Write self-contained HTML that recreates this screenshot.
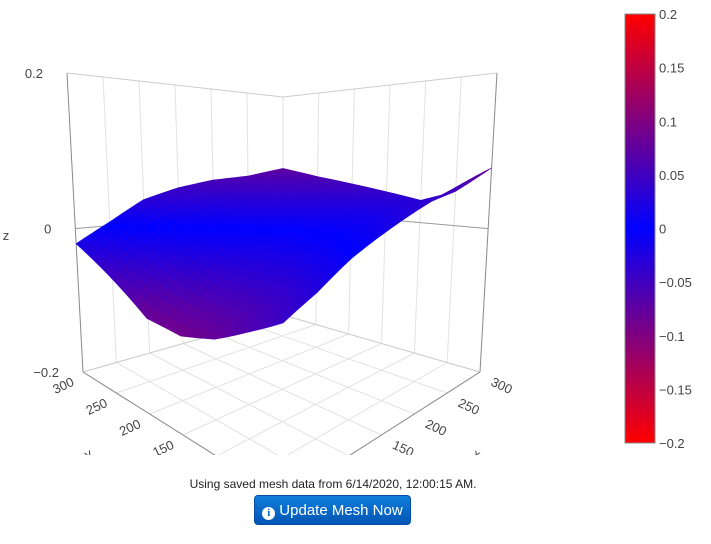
<!DOCTYPE html>
<html><head><meta charset="utf-8">
<style>
body{margin:0;width:711px;height:544px;background:#fff;font-family:"Liberation Sans",Arial,sans-serif;overflow:hidden;position:relative}
#msg{position:absolute;left:0;width:666px;top:477px;text-align:center;font-size:12px;color:#222}
#btn{position:absolute;left:254px;top:495px;width:157px;height:30px;border-radius:4px;background:linear-gradient(#0f7ddb,#0456b5);color:#fff;font-size:15px;line-height:30px;text-align:center;box-sizing:border-box;border:1px solid #0450a8}
#btn .ic{display:inline-block;width:13px;height:13px;border-radius:50%;background:#fff;color:#0a66c8;font-size:11px;font-weight:bold;line-height:13px;font-family:"Liberation Serif",serif;vertical-align:-1px;margin-right:4px}
</style></head><body>
<svg id="chart" width="711" height="470" style="position:absolute;left:0;top:0">
<defs>
<clipPath id="clip"><rect x="0" y="0" width="600" height="455"/></clipPath>
<linearGradient id="cb" x1="0" y1="0" x2="0" y2="1">
<stop offset="0" stop-color="#ff0000"/><stop offset="0.5" stop-color="#0000ff"/><stop offset="1" stop-color="#ff0000"/>
</linearGradient>
</defs>
<g id="scene" clip-path="url(#clip)"></g>
<g id="colorbar">
<rect x="625" y="14" width="30" height="429" fill="url(#cb)" stroke="#888" stroke-width="1"/>
</g>
</svg>
<div id="msg">Using saved mesh data from 6/14/2020, 12:00:15 AM.</div>
<div id="btn"><span class="ic">i</span>Update Mesh Now</div>
<script>
const xVals=[0,50,100,150,200,250,300];
const yVals=[0,50,100,150,200,250,300];
const zRow0=[-0.045,-0.062,-0.08,-0.09,-0.085,-0.052,-0.02];
const zRow1=[-0.027,-0.045,-0.055,-0.055,-0.04,-0.017,0.005];
const zRow2=[-0.003,-0.018,-0.027,-0.027,-0.012,0.003,0.033];
const zRow3=[0.017,0.002,-0.008,-0.008,0.002,0.017,0.048];
const zRow4=[0.037,0.017,0.007,0.007,0.022,0.037,0.058];
const zRow5=[0.057,0.032,0.022,0.022,0.037,0.052,0.063];
const zRow6=[0.079,0.047,0.032,0.042,0.052,0.062,0.075];
const zGrid=[zRow0,zRow1,zRow2,zRow3,zRow4,zRow5,zRow6];
const zTicks=[-0.2,0,0.2];
const zTickLabels=["−0.2","0","0.2"];
const axisTicks=[100,150,200,250,300];
const cbTicks=[0.2,0.15,0.1,0.05,0,-0.05,-0.1,-0.15,-0.2];
const cbLabels=["0.2","0.15","0.1","0.05","0","−0.05","−0.1","−0.15","−0.2"];

const NS="http://www.w3.org/2000/svg";
const scene=document.getElementById('scene');
const F0=[283,498],R0=[480,372],L0=[83,372],B0=[283,315];
const F1=[283,20],R1=[497,73],L1=[67,73],B1=[283,97];
function bil(a,b,c,d,u,v){return [(1-u)*(1-v)*a[0]+u*(1-v)*b[0]+(1-u)*v*c[0]+u*v*d[0],(1-u)*(1-v)*a[1]+u*(1-v)*b[1]+(1-u)*v*c[1]+u*v*d[1]];}
function proj(x,y,z){const u=x/300,v=y/300,t=Math.pow(Math.max(0,(z+0.2)/0.4),1.06);const p=bil(F0,R0,L0,B0,u,v),q=bil(F1,R1,L1,B1,u,v);return [p[0]+(q[0]-p[0])*t,p[1]+(q[1]-p[1])*t];}
function line(a,b,col,name){const l=document.createElementNS(NS,'line');l.setAttribute('x1',a[0]);l.setAttribute('y1',a[1]);l.setAttribute('x2',b[0]);l.setAttribute('y2',b[1]);l.setAttribute('stroke',col);l.setAttribute('stroke-width',1);


scene.appendChild(l);}
function text(x,y,s,anchor,rot,name,parent){const t=document.createElementNS(NS,'text');t.setAttribute('x',x);t.setAttribute('y',y);t.setAttribute('font-size',13);t.setAttribute('fill','#444');t.setAttribute('text-anchor',anchor);t.setAttribute('font-family','"Liberation Sans",sans-serif');if(rot)t.setAttribute('transform','rotate('+rot+' '+x+' '+y+')');t.textContent=s;


(parent||scene).appendChild(t);}
const G='#e2e2e2',D='#888';
xVals.forEach(x=>{line(proj(x,300,-0.2),proj(x,300,0.2),x===0?D:G,'wall-gridline-x');line(proj(x,0,-0.2),proj(x,300,-0.2),G,'floor-gridline-x');});
yVals.forEach(y=>{line(proj(300,y,-0.2),proj(300,y,0.2),y===0?D:G,'wall-gridline-y');line(proj(0,y,-0.2),proj(300,y,-0.2),G,'floor-gridline-y');});
zTicks.forEach(z=>{const c=z===0?'#999':'#ccc';line(proj(0,300,z),proj(300,300,z),c,'wall-gridline-z');line(proj(300,300,z),proj(300,0,z),c,'wall-gridline-z');});
line(proj(0,0,-0.2),proj(0,300,-0.2),D,'y-axis-line');
line(proj(0,0,-0.2),proj(300,0,-0.2),D,'x-axis-line');
function color(z){const t=Math.min(1,Math.abs(z)/0.2);return 'rgb('+Math.round(255*t)+',0,'+Math.round(255*(1-t))+')';}
const S=5;
function zAt(i,j,a,b){return (1-a)*(1-b)*zGrid[i][j]+a*(1-b)*zGrid[i+1][j]+(1-a)*b*zGrid[i][j+1]+a*b*zGrid[i+1][j+1];}
const cells=[];
for(let i=0;i<xVals.length-1;i++)for(let j=0;j<yVals.length-1;j++)for(let a=0;a<S;a++)for(let b=0;b<S;b++)cells.push([i,j,a,b]);
cells.sort((p,q)=>((q[0]*S+q[2])+(q[1]*S+q[3]))-((p[0]*S+p[2])+(p[1]*S+p[3])));
cells.forEach(([i,j,a,b])=>{
const corners=[[a,b],[a+1,b],[a+1,b+1],[a,b+1]].map(([ca,cb])=>{const fa=ca/S,fb=cb/S;const x=xVals[i]+(xVals[i+1]-xVals[i])*fa,y=yVals[j]+(yVals[j+1]-yVals[j])*fb;return proj(x,y,zAt(i,j,fa,fb));});
const zm=zAt(i,j,(a+0.5)/S,(b+0.5)/S);
const p=document.createElementNS(NS,'polygon');p.setAttribute('points',corners.map(q=>q.join(',')).join(' '));p.setAttribute('fill',color(zm));p.setAttribute('stroke',color(zm));p.setAttribute('stroke-width',0.6);p.setAttribute('stroke-linejoin','round');


scene.appendChild(p);});
zTicks.forEach((z,k)=>{const p=proj(0,300,z);text(p[0]-24,p[1]+5,zTickLabels[k],'end',0,'z-tick-label');});
text(6,240,'z','middle',0,'z-axis-title');
axisTicks.forEach(v=>{const p=proj(0,v,-0.2);text(p[0]-8,p[1]+13,String(v),'end',-25,'y-tick-label');
const q=proj(v,0,-0.2);text(q[0]+10,q[1]+13,String(v),'start',25,'x-tick-label');});
text(90,458,'y','middle',-25,'y-axis-title');
text(475,458,'x','middle',25,'x-axis-title');
const cb=document.getElementById('colorbar');
cbTicks.forEach((v,k)=>{const y=14+(0.2-v)/0.4*429;text(659,y+5,cbLabels[k],'start',0,'colorbar-tick-label',cb);});
</script>
</body></html>
